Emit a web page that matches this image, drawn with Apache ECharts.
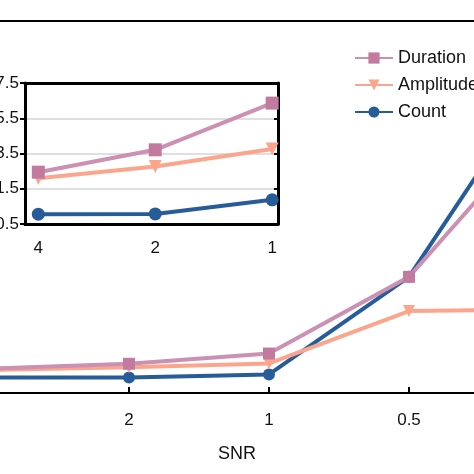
<!DOCTYPE html>
<html>
<head>
<meta charset="utf-8">
<style>
  html, body { margin: 0; padding: 0; background: #fff; }
  #chart { width: 474px; height: 474px; }
</style>
<script src="https://cdn.jsdelivr.net/npm/echarts@6/dist/echarts.min.js"></script>
</head>
<body>
<div id="chart"></div>
<script>
// main chart, SNR categories (4 and 0.25 fall outside the visible crop)
const snrMain = ['4', '2', '1', '0.5', '0.25'];
const durationMain = [2.4, 3.7, 6.4, 26.6, 68.3];
const amplitudeMain = [2.1, 2.8, 3.8, 17.6, 18.1];
const countMain = [0.1, 0.1, 0.9, 26.6, 81.9];

// zoomed inset
const snrInset = ['4', '2', '1'];
const durationInset = [2.44, 3.71, 6.36];
const amplitudeInset = [2.1, 2.76, 3.75];
const countInset = [0.06, 0.07, 0.87];
const insetTicks = [-0.5, 1.5, 3.5, 5.5, 7.5];

const colDuration = '#c27a9f';
const colDurationLine = '#cb90b2';
const colAmplitude = '#fba68c';
const colCount = '#265d98';
const font = 'Liberation Sans';

function pts(arr) {
  return arr.map((v, i) => [i, v]);
}

function mkSeries(name, data, xi, yi, sym, size, col, lineCol, rot) {
  return {
    name: name,
    type: 'line',
    xAxisIndex: xi,
    yAxisIndex: yi,
    data: pts(data),
    symbol: sym,
    symbolSize: size,
    symbolRotate: rot || 0,
    itemStyle: { color: col },
    lineStyle: { color: lineCol, width: 4 },
    clip: true,
    z: 10,
    animation: false
  };
}

const chart = echarts.init(document.getElementById('chart'));

const option = {
  backgroundColor: '#ffffff',
  textStyle: { fontFamily: font },
  legend: {
    orient: 'vertical',
    left: 349,
    top: 44,
    itemWidth: 38,
    itemHeight: 14,
    itemGap: 9,
    textStyle: { fontSize: 18, color: '#111', fontFamily: font },
    data: ['Duration', 'Amplitude', 'Count']
  },
  grid: [
    { left: 0, right: 0, top: 21, bottom: 81, outerBoundsMode: 'none' },
    { left: 25, top: 83, width: 253, height: 141, outerBoundsMode: 'none',
      show: true, backgroundColor: '#fff', borderWidth: 0 }
  ],
  xAxis: [
    {
      type: 'value', gridIndex: 0, min: 11 / 140, max: 485 / 140,
      name: 'SNR', nameLocation: 'middle', nameGap: 52,
      nameTextStyle: { fontSize: 18, color: '#111', fontFamily: font },
      axisLine: { onZero: false, lineStyle: { color: '#000', width: 2 } },
      axisTick: { inside: true, length: 6, lineStyle: { color: '#000', width: 2 }, customValues: [1, 2, 3] },
      axisLabel: {
        customValues: [1, 2, 3], margin: 19, fontSize: 17, color: '#111',
        formatter: v => snrMain[Math.round(v)]
      },
      splitLine: { show: false }
    },
    {
      type: 'value', gridIndex: 0, position: 'top', min: 11 / 140, max: 485 / 140,
      axisLine: { onZero: false, lineStyle: { color: '#000', width: 2 } },
      axisTick: { show: false }, axisLabel: { show: false }, splitLine: { show: false }
    },
    {
      type: 'value', gridIndex: 1, min: -0.114, max: 2.05,
      axisLine: { onZero: false, lineStyle: { color: '#000', width: 3 } },
      axisTick: { show: false },
      axisLabel: {
        customValues: [0, 1, 2], margin: 16, fontSize: 17, color: '#111',
        formatter: v => snrInset[Math.round(v)]
      },
      splitLine: { show: false }
    },
    {
      type: 'value', gridIndex: 1, position: 'top', min: -0.114, max: 2.05,
      axisLine: { onZero: false, lineStyle: { color: '#000', width: 3 } },
      axisTick: { show: false }, axisLabel: { show: false }, splitLine: { show: false }
    }
  ],
  yAxis: [
    { type: 'value', gridIndex: 0, min: -4, max: 94, show: false },
    {
      type: 'value', gridIndex: 1, min: -0.5, max: 7.5, interval: 2,
      axisLine: { show: true, onZero: false, lineStyle: { color: '#000', width: 3 } },
      axisTick: { show: true, length: 5, lineStyle: { color: '#000', width: 2 }, customValues: insetTicks },
      axisLabel: { customValues: insetTicks, margin: 6, fontSize: 17, color: '#111' },
      splitLine: { show: true, lineStyle: { color: '#d4d4d4', width: 1.5 } }
    },
    {
      type: 'value', gridIndex: 1, position: 'right', min: -0.5, max: 7.5, interval: 2,
      axisLine: { show: true, onZero: false, lineStyle: { color: '#000', width: 3 } },
      axisTick: { show: true, inside: true, length: 4, lineStyle: { color: '#000', width: 2 }, customValues: insetTicks },
      axisLabel: { show: false },
      splitLine: { show: false }
    }
  ],
  series: [
    mkSeries('Count', countMain, 0, 0, 'circle', 12, colCount, colCount),
    mkSeries('Amplitude', amplitudeMain, 0, 0, 'triangle', 12, colAmplitude, colAmplitude, 180),
    mkSeries('Duration', durationMain, 0, 0, 'rect', 12, colDuration, colDurationLine),
    mkSeries('Count', countInset, 2, 1, 'circle', 13, colCount, colCount),
    mkSeries('Amplitude', amplitudeInset, 2, 1, 'triangle', 13, colAmplitude, colAmplitude, 180),
    mkSeries('Duration', durationInset, 2, 1, 'rect', 13, colDuration, colDurationLine)
  ]
};

chart.setOption(option);
</script>
</body>
</html>
